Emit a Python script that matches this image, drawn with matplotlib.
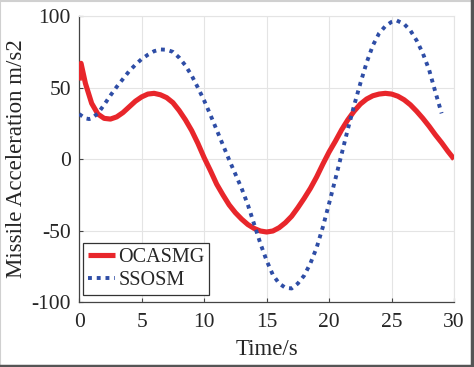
import matplotlib.pyplot as plt
from matplotlib.lines import Line2D

plt.rcParams['font.family'] = ['Liberation Serif', 'DejaVu Serif']
plt.rcParams['axes.unicode_minus'] = False

# OCASMG (red solid)
t_ocasmg = [0, 0.15, 0.5, 1.0, 1.5, 2.0, 2.5, 3.0, 3.5, 4.0, 4.5, 5.0, 5.5, 6.0,
            6.5, 7.0, 7.5, 8.0, 8.5, 9.0, 9.5, 10.0, 10.5, 11.0, 11.5, 12.0,
            12.5, 13.0, 13.5, 14.0, 14.5, 15.0, 15.5, 16.0, 16.5, 17.0, 17.5,
            18.0, 18.5, 19.0, 19.5, 20.0, 20.5, 21.0, 21.5, 22.0, 22.5, 23.0,
            23.5, 24.0, 24.5, 25.0, 25.5, 26.0, 26.5, 27.0, 27.5, 28.0, 28.5,
            29.0, 29.5, 30.0]
a_ocasmg = [55, 67, 53, 39, 31.5, 28.5, 28, 29.5, 32.5, 36.5, 40.5, 43.5, 45.5, 46,
            45, 43, 39.5, 34, 27.5, 20, 11, 1, -8, -17.5, -25, -32,
            -37.5, -42, -45.8, -48.5, -50.3, -51, -50.3, -48, -44.5, -40, -34,
            -27.5, -20.5, -12.5, -3.5, 5, 12.5, 20.5, 27.5, 33.5, 38.5, 42,
            44.3, 45.5, 46, 45.5, 44, 41.5, 38, 33.5, 28.5, 23, 17, 11.5, 5.5, 0]

# SSOSM (blue dotted)
t_ssosm = [0, 0.5, 0.8, 1.0, 1.5, 2.0, 2.5, 3.0, 3.5, 4.0, 4.5, 5.0, 5.5, 6.0,
           6.5, 7.0, 7.5, 8.0, 8.5, 9.0, 9.5, 10.0, 10.5, 11.0, 11.5, 12.0,
           12.5, 13.0, 13.5, 14.0, 14.5, 15.0, 15.5, 16.0, 16.5, 17.0, 17.5,
           18.0, 18.5, 19.0, 19.5, 20.0, 20.5, 21.0, 21.5, 22.0, 22.5, 23.0,
           23.5, 24.0, 24.5, 25.0, 25.4, 26.0, 26.5, 27.0, 27.5, 28.0, 28.5, 29.0]
a_ssosm = [31.5, 28.5, 28, 28.5, 32, 38, 44.5, 50.5, 56, 61.5, 66, 70, 73, 75.5,
           76.7, 76.5, 75, 71, 65.5, 58.5, 50, 41, 31, 20.5, 10, -0.5,
           -10.5, -20.5, -32, -45.5, -59, -71, -81, -87, -90, -90.5, -87,
           -81.5, -73, -62, -47.5, -31, -14, 3.5, 21, 37.5, 53, 67.5,
           79.5, 88, 93, 96, 97, 94.5, 90, 83, 74, 62.5, 47, 32]

fig = plt.figure(figsize=(4.74, 3.67), dpi=100)
ax = fig.add_axes([0.167, 0.177, 0.791, 0.779])

ax.plot(t_ocasmg, a_ocasmg, color='#E8262B', lw=3.7, label='OCASMG',
        solid_capstyle='butt', zorder=3)
ax.plot(t_ssosm, a_ssosm, color='#2E4DA6', lw=2.8, linestyle=(0, (1, 1.25)),
        label='SSOSM', zorder=3)

ax.set_xlim(0, 30)
ax.set_ylim(-100, 100)
ax.set_xticks([0, 5, 10, 15, 20, 25, 30])
ax.set_yticks([-100, -50, 0, 50, 100])
ax.grid(True, color='#E4E4E4', lw=0.8)
ax.set_axisbelow(True)
ax.tick_params(direction='in', length=3, width=0.8, color='#444444',
               labelsize=15.5, labelcolor='#262626')
ax.tick_params(axis='x', pad=8)
ax.tick_params(axis='y', pad=6)
for s in ['left', 'bottom']:
    ax.spines[s].set_color('#444444')
    ax.spines[s].set_linewidth(0.9)
for s in ['top', 'right']:
    ax.spines[s].set_color('#E4E4E4')
    ax.spines[s].set_linewidth(0.8)

ax.set_xlabel('Time/s', fontsize=16.5, color='#262626', labelpad=5)
ax.set_ylabel('Missile Acceleration m/s2', fontsize=16.5, color='#262626',
              labelpad=3)

leg = ax.legend(loc='lower left', bbox_to_anchor=(0.01, 0.025), fontsize=14.5,
                handlelength=1.35, handletextpad=0.15, borderpad=0.25,
                labelspacing=0.2, borderaxespad=0, fancybox=False,
                framealpha=1)
leg.get_frame().set_edgecolor('#333333')
leg.get_frame().set_linewidth(0.9)
for txt in leg.get_texts():
    txt.set_color('#262626')

# picture frame
fig.add_artist(Line2D([0, 1], [0.998, 0.998], color='#D0D0D0', lw=1.5,
                      transform=fig.transFigure))
fig.add_artist(Line2D([0.001, 0.001], [0, 1], color='#D0D0D0', lw=1.5,
                      transform=fig.transFigure))
fig.add_artist(Line2D([0, 1], [0.004, 0.004], color='#555555', lw=2.5,
                      transform=fig.transFigure))
fig.add_artist(Line2D([0.996, 0.996], [0, 1], color='#555555', lw=2.5,
                      transform=fig.transFigure))

fig.savefig('out.png', dpi=100)
